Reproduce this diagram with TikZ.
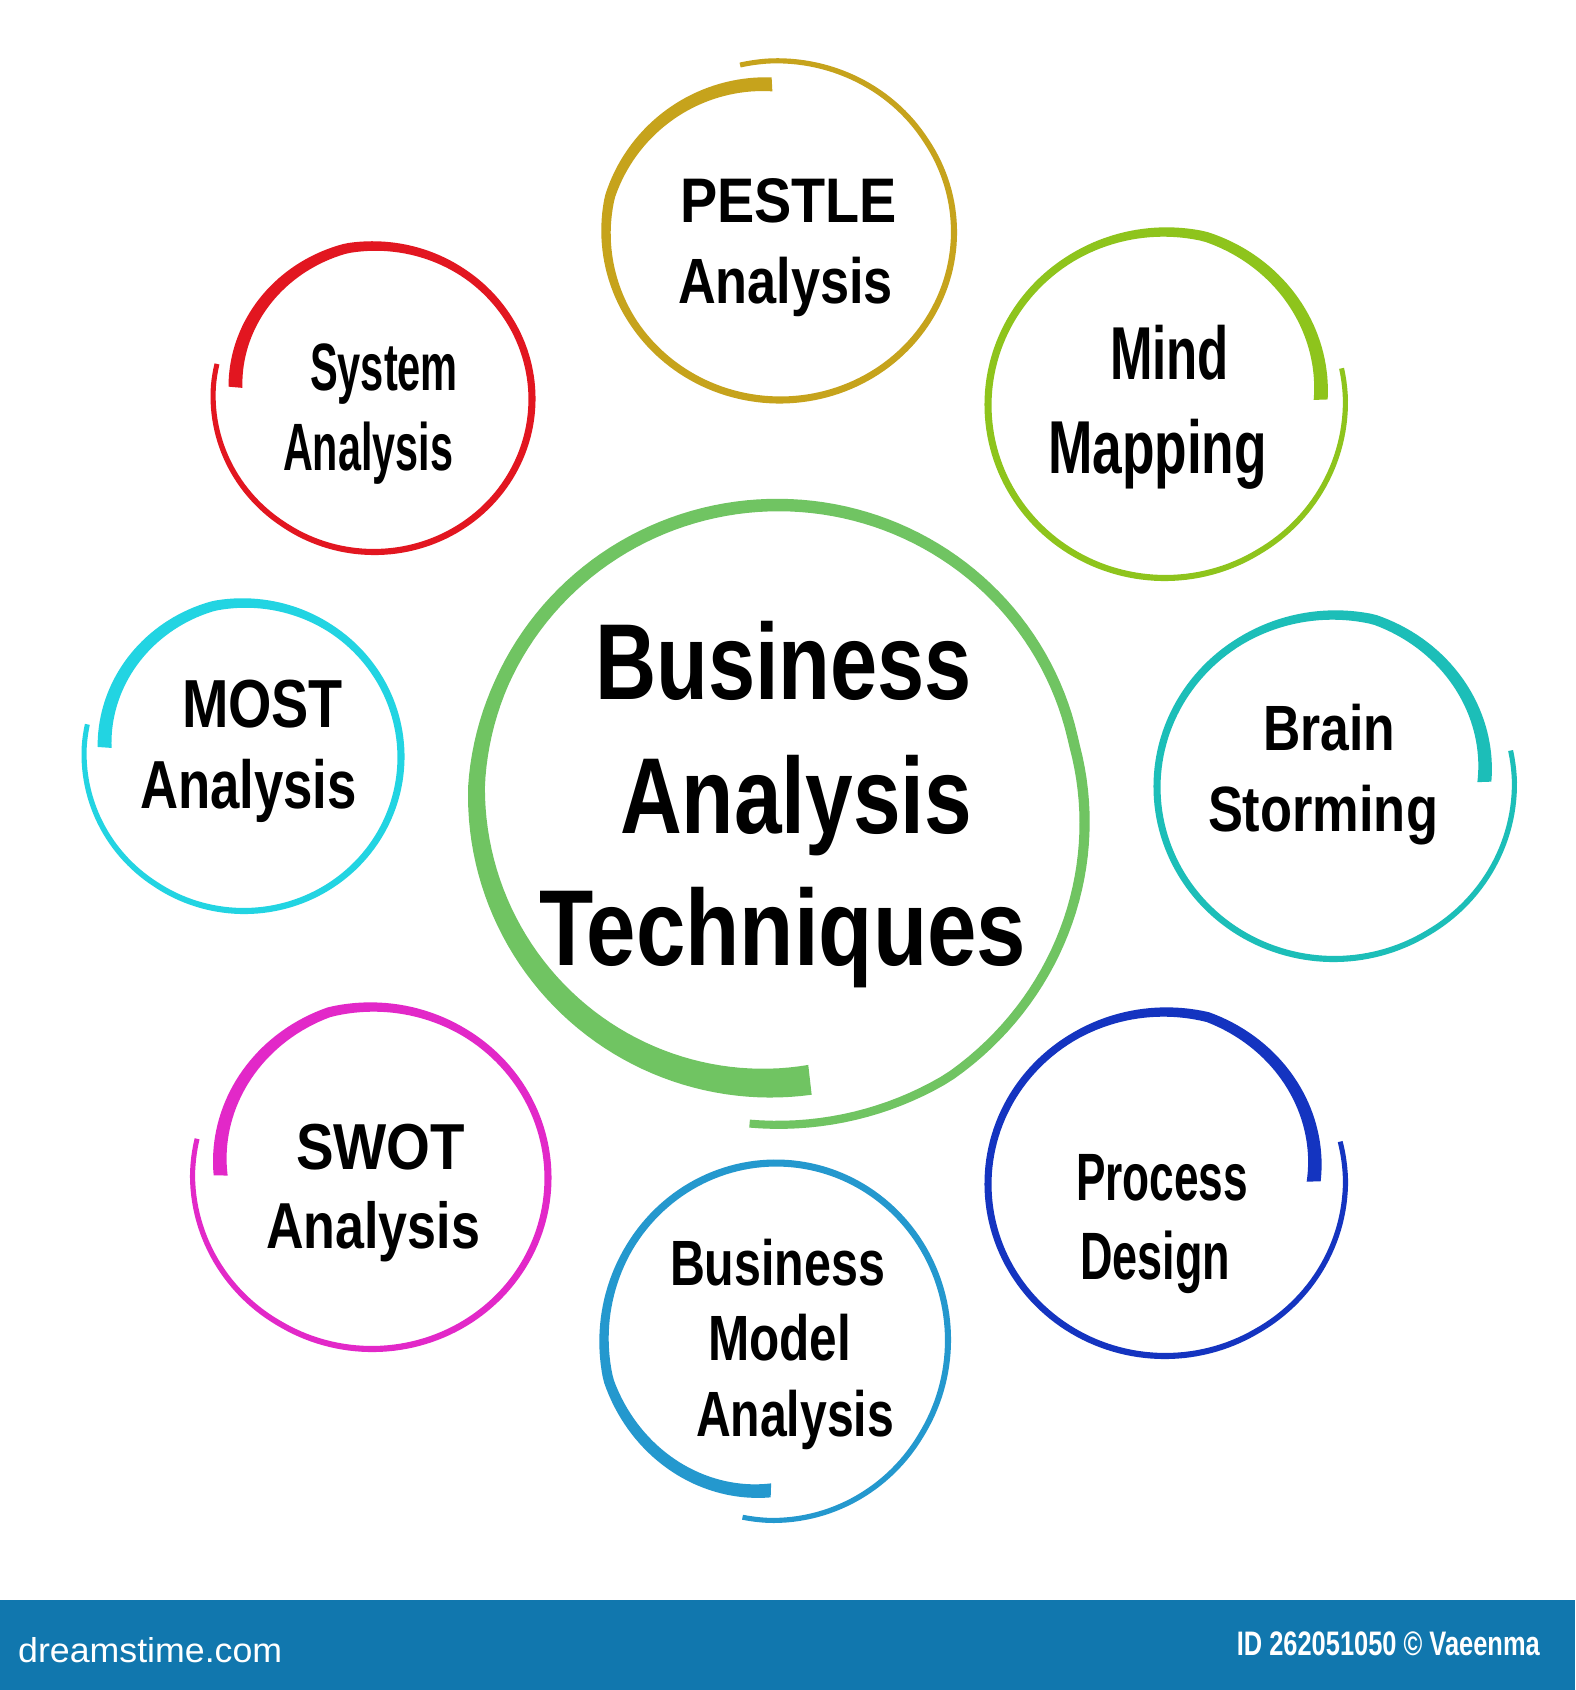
\documentclass[tikz,border=0pt]{standalone}
\usepackage{fontspec}
\setmainfont{Liberation Sans}
\usepackage{graphicx}
\definecolor{cPestle}{RGB}{198,163,28}
\definecolor{cSys}{RGB}{226,22,32}
\definecolor{cMost}{RGB}{34,212,226}
\definecolor{cMind}{RGB}{142,196,28}
\definecolor{cBrain}{RGB}{28,190,184}
\definecolor{cSwot}{RGB}{226,40,200}
\definecolor{cProc}{RGB}{20,52,192}
\definecolor{cBma}{RGB}{36,152,206}
\definecolor{cBig}{RGB}{112,196,98}
\definecolor{cBar}{RGB}{17,119,174}

\pgfkeys{/ring/.is family, /ring/.cd,
 cx/.store in=\rcx, cy/.store in=\rcy, rx/.store in=\rrx, ry/.store in=\rry,
 t0/.store in=\rt, dir/.store in=\rd, S/.store in=\rS,
 A/.store in=\rA, U1/.store in=\rU, B/.store in=\rB, U2/.store in=\rV, E/.store in=\rE,
 w0/.store in=\rwo, Uw/.store in=\rUw, wa/.store in=\rwa, wb/.store in=\rwb,
 col/.store in=\rcol}

\newcommand\brushring[1]{%
 \begin{scope}
 \pgfkeys{/ring/.cd, A=0.12, U1=75, B=0.02, U2=300, E=60, w0=14, Uw=120, wa=9, wb=5, col=black, #1}%
 \fill[\rcol] plot[domain=0:\rS, samples=180, variable=\u]
   ({\rcx+(\rrx*rs(\u)+rw(\u)/2)*cos(\rt+(\rd)*\u)},{\rcy+(\rry*rs(\u)+rw(\u)/2)*sin(\rt+(\rd)*\u)})
   -- plot[domain=\rS:0, samples=180, variable=\u]
   ({\rcx+(\rrx*rs(\u)-rw(\u)/2)*cos(\rt+(\rd)*\u)},{\rcy+(\rry*rs(\u)-rw(\u)/2)*sin(\rt+(\rd)*\u)})
   -- cycle;
 \end{scope}}

\tikzset{lbl/.style={anchor=base west, inner sep=0pt, outer sep=0pt, font=\bfseries}}
\newcommand\lab[6]{\node[lbl] (#1) at (#2,#3) {\resizebox{#5pt}{\height}{\fontsize{#4pt}{#4pt}\selectfont #6}};}

\begin{document}
\begin{tikzpicture}[x=1pt,y=-1pt,
  declare function={rs(\q)=1-\rA*max(0,1-\q/\rU)+\rB*min(1,max(0,(\q-\rV)/\rE));
                    rw(\q)=\rwa+(\rwb-\rwa)*\q/\rS+(\rwo-\rwa)*max(0,1-\q/\rUw);}]
\useasboundingbox (0,0) rectangle (1575,1690);
\fill[white] (0,0) rectangle (1575,1690);

% rings
\brushring{cx=780, cy=232, rx=174, ry=168, t0=267, dir=-1, S=370, A=0.12, col=cPestle}
\brushring{cx=374, cy=399, rx=158, ry=153, t0=185, dir=1, S=368, A=0.12, col=cSys}
\brushring{cx=244, cy=757, rx=157, ry=154, t0=184, dir=1, S=368, A=0.11, col=cMost}
\brushring{cx=1165, cy=405, rx=177, ry=173, t0=-2, dir=-1, S=370, A=0.12, col=cMind}
\brushring{cx=1334, cy=787, rx=177, ry=172, t0=-2, dir=-1, S=370, A=0.15, col=cBrain}
\brushring{cx=372, cy=1178, rx=176, ry=171, t0=181, dir=1, S=372, A=0.14, col=cSwot}
\brushring{cx=1165, cy=1184, rx=177, ry=172, t0=-1, dir=-1, S=373, A=0.16, col=cProc}
\brushring{cx=776, cy=1340, rx=172, ry=177, t0=92, dir=1, S=369, A=0.15, col=cBma}
\brushring{cx=778, cy=803, rx=302, ry=298, t0=83.5, dir=1, S=371.5, A=0.065, U1=100, B=0.08, U2=265, E=70, w0=30, Uw=120, wa=17, wb=8, col=cBig}

% labels
\lab{t1}{595}{699}{108}{377}{Business}
\lab{t2}{620}{833}{108}{352}{Analysis}
\lab{t3}{539}{965}{108}{487}{Techniques}
\lab{pe1}{680}{222}{63}{217}{PESTLE}
\lab{pe2}{678}{303}{64}{215}{Analysis}
\lab{sy1}{310}{390}{67}{148}{System}
\lab{sy2}{283}{470}{67}{170}{Analysis}
\lab{mo1}{182}{727}{68}{161}{MOST}
\lab{mo2}{140}{808}{68}{217}{Analysis}
\lab{mi1}{1110}{379}{75}{119}{Mind}
\lab{mi2}{1048}{473}{75}{219}{Mapping}
\lab{br1}{1263}{750}{64}{132}{Brain}
\lab{br2}{1208}{831}{64}{230}{Storming}
\lab{sw1}{296}{1169}{65}{169}{SWOT}
\lab{sw2}{266}{1248}{65}{214}{Analysis}
\lab{pr1}{1076}{1200}{67}{172}{Process}
\lab{pr2}{1080}{1279}{67}{150}{Design}
\lab{bm1}{670}{1285}{64}{215}{Business}
\lab{bm2}{708}{1360}{64}{143}{Model}
\lab{bm3}{696}{1436}{64}{198}{Analysis}

% bottom bar
\fill[cBar] (0,1600) rectangle (1575,1690);
\node[anchor=base west, inner sep=0pt, text=white] (logo) at (18,1662)
  {\resizebox{264pt}{25pt}{\fontsize{34pt}{34pt}\selectfont dreamstime.com}};
\node[anchor=base east, inner sep=0pt, text=white, font=\bfseries] (credit) at (1540,1655)
  {\resizebox{303pt}{\height}{\fontsize{34pt}{34pt}\selectfont ID 262051050 © Vaeenma}};
\end{tikzpicture}
\end{document}
